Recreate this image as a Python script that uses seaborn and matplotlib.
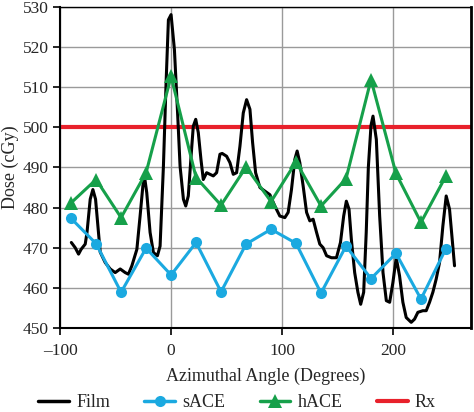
import matplotlib
matplotlib.use("Agg")
import matplotlib.pyplot as plt
import seaborn as sns
import pandas as pd
from matplotlib.lines import Line2D

# ---- data ----
ace_angles = [-90, -67.5, -45, -22.5, 0, 22.5, 45, 67.5, 90, 112.5, 135, 157.5, 180, 202.5, 225, 247.5]
sace_dose = [477.3, 471.0, 458.9, 469.9, 463.2, 471.3, 459.0, 470.9, 474.6, 471.1, 458.7, 470.4, 462.3, 468.6, 457.2, 469.8]
hace_dose = [481.2, 487.0, 477.5, 488.7, 512.7, 487.5, 480.6, 490.1, 481.5, 491.4, 480.4, 487.2, 511.9, 488.5, 476.3, 487.9]

film_angle = [-89.8, -86.3, -83.3, -81, -77.3, -75.7, -72.8, -70.4, -68, -65.4, -63.8, -59.3, -54.8, -50.3,
              -45.8, -41.3, -38.4, -35.3, -30.8, -27.9, -25.4, -24, -21.9, -18.9, -15.9, -12.3, -9.9, -6.9,
              -4.5, -2.4, 0, 3, 6, 8.1, 11.1, 13.2, 15.5, 18, 20, 22.2, 24.5, 26.9, 29, 32, 35, 38, 41, 44,
              46, 50, 53, 56, 59, 62, 65, 68, 71, 73.4, 76.1, 80, 84.5, 89, 93.4, 97.9, 102.4, 105.4, 108.4,
              111.4, 113.5, 115.9, 118.9, 122, 124.9, 127.9, 131, 133.9, 136.9, 140, 144.4, 148.9, 152.5,
              155.4, 157.8, 160.2, 162.3, 165.3, 168.2, 170.7, 173.4, 175.7, 177.6, 180, 181.8, 184.8, 187.8,
              190.8, 193.8, 196.8, 199.7, 202.7, 205.7, 208.7, 211.7, 216.2, 219.2, 222.2, 226.7, 229.7,
              232.7, 235.7, 238.7, 241.7, 244.7, 247.7, 250.7, 253.1, 255.2]
film_dose = [471.3, 470.0, 468.4, 469.6, 470.9, 473.8, 482.1, 484.5, 482.1, 473.9, 468.9, 466.3, 464.7, 463.8,
             464.7, 463.8, 463.4, 465.5, 469.6, 477.9, 485.4, 487.9, 483.7, 473.8, 468.8, 468.0, 470.4, 490.3,
             511.1, 526.8, 528.1, 519.4, 502.8, 490.3, 482.1, 480.4, 482.9, 492.8, 500.3, 502.0, 498.7, 492.0,
             487.0, 488.7, 488.3, 487.9, 488.7, 493.3, 493.5, 492.8, 491.2, 488.3, 488.7, 495.3, 503.6, 506.9,
             504.5, 496.2, 488.7, 485.0, 484.1, 483.2, 480.4, 477.9, 477.5, 478.8, 484.5, 492.0, 494.1, 491.2,
             485.4, 478.8, 476.7, 477.1, 473.8, 470.9, 470.0, 468.0, 467.5, 467.5, 471.3, 477.9, 481.6, 479.6,
             472.1, 463.8, 458.9, 455.9, 458.9, 473.8, 490.0, 500.5, 502.8, 497.0, 477.9, 463.8, 456.8, 456.4,
             461.3, 467.5, 463.0, 456.4, 452.6, 451.4, 452.2, 453.9, 454.3, 454.3, 456.4, 458.9, 462.2, 466.3,
             475.4, 482.9, 479.6, 472.1, 465.5]
rx_dose = 500
x_ticks = [-100, 0, 100, 200]
x_tick_labels = ["\u2013100", "0", "100", "200"]
y_ticks = [450, 460, 470, 480, 490, 500, 510, 520, 530]

film_df = pd.DataFrame({"angle": film_angle, "dose": film_dose})
ace_df = pd.DataFrame({"angle": ace_angles, "sACE": sace_dose, "hACE": hace_dose})

sns.set_style("white")
plt.rcParams["font.family"] = ["Liberation Serif", "DejaVu Serif"]

BLACK = "#000000"
BLUE = "#1ba9e0"
GREEN = "#16a04a"
RED = "#e8212b"

fig = plt.figure(figsize=(4.74, 4.12), dpi=100)
ax = fig.add_axes([0.1266, 0.204, 0.867, 0.779])

ax.axhline(rx_dose, color=RED, lw=3, zorder=2)
sns.lineplot(data=film_df, x="angle", y="dose", ax=ax, color=BLACK, lw=2.2, sort=False, zorder=3)
sns.lineplot(data=ace_df, x="angle", y="sACE", ax=ax, color=BLUE, lw=2.2, marker="o",
             markersize=8, markeredgewidth=0, zorder=4)
sns.lineplot(data=ace_df, x="angle", y="hACE", ax=ax, color=GREEN, lw=2.2, marker="^",
             markersize=10, markeredgewidth=0, zorder=5)

ax.set_xlim(-100, 270)
ax.set_ylim(450, 530)
ax.set_xticks(x_ticks)
ax.set_xticklabels(x_tick_labels)
ax.set_yticks(y_ticks)
ax.grid(True, color="#9a9a9a", lw=1)
ax.set_axisbelow(True)
ax.tick_params(axis="both", labelsize=12.5, direction="out", length=5, width=1.2, color="black",
               bottom=True, left=True, pad=3)
ax.tick_params(axis="x", pad=6)
for s in ["left", "bottom"]:
    ax.spines[s].set_color("black")
    ax.spines[s].set_linewidth(1.5)
ax.spines["top"].set_color("black")
ax.spines["top"].set_linewidth(1)
ax.spines["right"].set_color("black")
ax.spines["right"].set_linewidth(2)

ax.set_xlabel("Azimuthal Angle (Degrees)", fontsize=13, labelpad=6)
ax.set_ylabel("Dose (cGy)", fontsize=13, va="center")
ax.yaxis.set_label_coords(-0.121, 0.5)

handles = [
    Line2D([], [], color=BLACK, lw=2.5),
    Line2D([], [], color=BLUE, lw=2.5, marker="o", markersize=8, markeredgewidth=0),
    Line2D([], [], color=GREEN, lw=2.5, marker="^", markersize=10, markeredgewidth=0),
    Line2D([], [], color=RED, lw=3),
]
fig.legend(handles, ["Film", "sACE", "hACE", "Rx"], loc="center", bbox_to_anchor=(0.5, 0.022),
           ncol=4, frameon=False, fontsize=13, handlelength=1.7, columnspacing=1.9, handletextpad=0.4,
           borderpad=0.1)

fig.savefig("out.png", dpi=100)
